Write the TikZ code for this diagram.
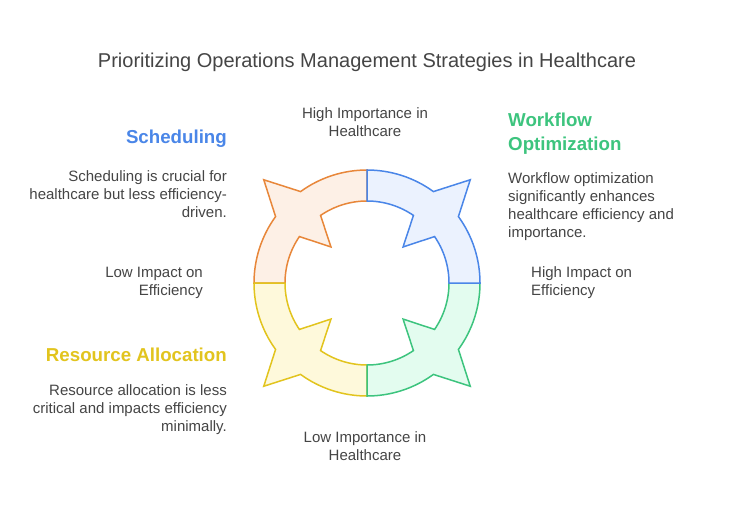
\documentclass[tikz,border=0pt]{standalone}
\usepackage{fontspec}
\setmainfont{Liberation Sans}
\definecolor{txt}{HTML}{454545}
\definecolor{bluS}{HTML}{4A86E8}\definecolor{bluF}{HTML}{EBF2FE}
\definecolor{orgS}{HTML}{E8873A}\definecolor{orgF}{HTML}{FDF0E6}
\definecolor{yelS}{HTML}{E2C41E}\definecolor{yelF}{HTML}{FEF9DB}
\definecolor{grnS}{HTML}{3DC47E}\definecolor{grnF}{HTML}{E3FCEF}
\newcommand{\quadseg}[3]{%
  \pgfmathsetmacro{\qa}{#1}\pgfmathsetmacro{\qc}{#1+45}\pgfmathsetmacro{\qb}{#1+90}%
  \draw[seg,draw=#2,fill=#3] (\qb:113pt) arc[start angle=\qb, end angle=\qc+9, radius=113pt]
    -- (\qc:146pt) -- (\qc-9:113pt) arc[start angle=\qc-9, end angle=\qa, radius=113pt]
    -- (\qa:82pt) arc[start angle=\qa, end angle=\qc-10.5, radius=82pt]
    -- (\qc:51pt) -- (\qc+10.5:82pt) arc[start angle=\qc+10.5, end angle=\qb, radius=82pt] -- cycle;}
\begin{document}
\begin{tikzpicture}[x=1pt,y=-1pt,
  seg/.style={line width=1.5pt,line join=miter},
  body/.style={font=\fontsize{15}{18}\selectfont,text=txt,inner sep=0pt},
  head/.style={font=\fontsize{18.7}{24}\selectfont\bfseries,inner sep=0pt}]
\useasboundingbox[fill=white] (0,0) rectangle (735,519);
\node[font=\fontsize{20}{24}\selectfont,text=txt,inner sep=0pt] (title) at (367,62) {Prioritizing Operations Management Strategies in Healthcare};
\begin{scope}[shift={(367,283)}]
\quadseg{90}{orgS}{orgF}
\quadseg{180}{yelS}{yelF}
\quadseg{270}{grnS}{grnF}
\quadseg{0}{bluS}{bluF}
\end{scope}
\node[head,text=bluS,anchor=east] (schedH) at (227,139) {Scheduling};
\node[body,align=right,anchor=east] (schedD) at (227,194) {Scheduling is crucial for\\healthcare but less efficiency-\\driven.};
\node[head,text=grnS,align=left,anchor=west] (wfH) at (508,134) {Workflow\\Optimization};
\node[body,align=left,anchor=west] (wfD) at (508,206.5) {Workflow optimization\\significantly enhances\\healthcare efficiency and\\importance.};
\node[head,text=yelS,anchor=east] (resH) at (227,355) {Resource Allocation};
\node[body,align=right,anchor=east] (resD) at (227,410) {Resource allocation is less\\critical and impacts efficiency\\minimally.};
\node[body,align=center] (hiImp) at (365,122) {High Importance in\\Healthcare};
\node[body,align=center] (loImp) at (365,446) {Low Importance in\\Healthcare};
\node[body,align=right,anchor=east] (loEff) at (203,283) {Low Impact on\\Efficiency};
\node[body,align=left,anchor=west] (hiEff) at (531,283) {High Impact on\\Efficiency};
\end{tikzpicture}
\end{document}
